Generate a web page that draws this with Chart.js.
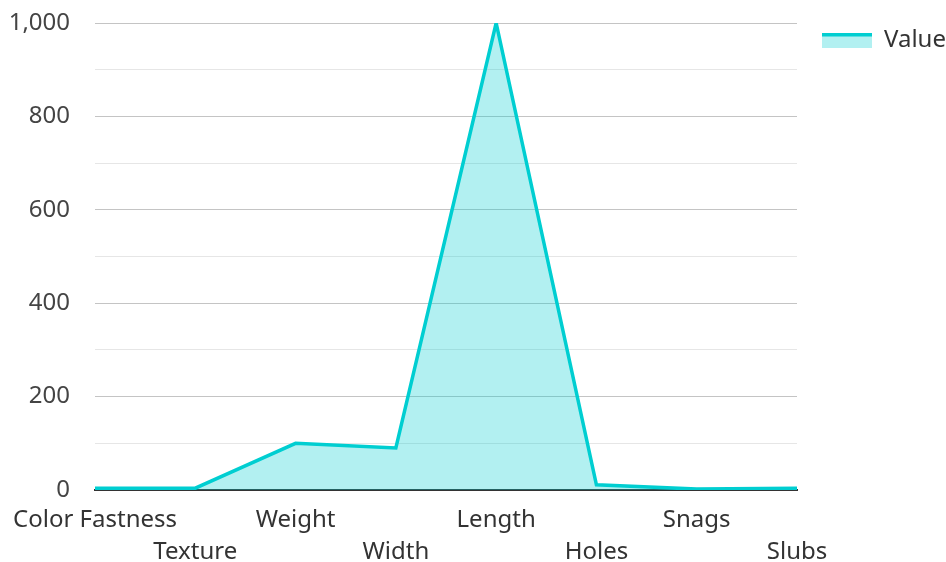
<!DOCTYPE html>
<html lang="en">
<head>
  <meta charset="UTF-8">
  <title>Value by Category</title>
  <script src="https://cdn.jsdelivr.net/npm/chart.js"></script>
  <style>
    html, body { margin: 0; padding: 0; background: #fff; }
    #wrap { width: 946px; height: 562px; }
  </style>
</head>
<body>
<div id="wrap"><canvas id="chart"></canvas></div>
<script>
  var categories = ['Color Fastness', 'Texture', 'Weight', 'Width', 'Length', 'Holes', 'Snags', 'Slubs'];
  var values = [4, 4, 100, 90, 1000, 11, 2, 4];
  var seriesName = 'Value';

  // stagger the category labels on two rows
  var labels = categories.map(function (c, i) { return i % 2 ? ['', c] : c; });

  // legend swatch: thin line on top of the fill
  var swatch = document.createElement('canvas');
  swatch.width = 50; swatch.height = 15;
  var sctx = swatch.getContext('2d');
  sctx.fillStyle = 'rgba(0,206,209,0.3)';
  sctx.fillRect(0, 0, 50, 15);
  sctx.fillStyle = '#00ced1';
  sctx.fillRect(0, 0, 50, 4);

  var ctx = document.getElementById('chart').getContext('2d');
  new Chart(ctx, {
    type: 'line',
    data: {
      labels: labels,
      datasets: [{
        label: seriesName,
        data: values,
        borderColor: '#00ced1',
        backgroundColor: 'rgba(0,206,209,0.3)',
        borderWidth: 3.5,
        fill: 'origin',
        pointRadius: 0,
        tension: 0
      }]
    },
    options: {
      responsive: true,
      maintainAspectRatio: false,
      animation: false,
      layout: { padding: { top: 3, right: 0, bottom: 0, left: 0 } },
      plugins: {
        tooltip: { enabled: false },
        legend: {
          position: 'right',
          align: 'start',
          maxWidth: 149,
          labels: {
            usePointStyle: true,
            pointStyle: swatch,
            pointStyleWidth: 50,
            boxHeight: 15,
            color: '#333',
            font: { family: 'Noto Sans', size: 24 },
            padding: 25
          }
        }
      },
      scales: {
        x: {
          offset: false,
          grid: { display: false, drawTicks: false },
          border: { display: true, color: '#333', width: 2 },
          ticks: {
            color: '#333',
            font: { family: 'Noto Sans', size: 24, lineHeight: 1.35 },
            maxRotation: 0,
            autoSkip: false,
            padding: 14
          },
          afterFit: function (s) { s.height = 72; s.paddingLeft = 0; s.paddingRight = 0; }
        },
        y: {
          min: 0,
          max: 1000,
          grid: {
            drawTicks: false,
            color: function (c) { return c.tick.value % 200 === 0 ? '#c4c4c4' : '#e6e6e6'; },
            lineWidth: 1
          },
          border: { display: false },
          ticks: {
            stepSize: 100,
            color: '#444',
            font: { family: 'Noto Sans', size: 24 },
            padding: 25,
            callback: function (v) { return v % 200 === 0 ? v.toLocaleString('en-US') : ''; }
          },
          afterFit: function (s) { s.width = 95; s.paddingTop = 23; s.paddingBottom = 0; }
        }
      }
    }
  });
</script>
</body>
</html>
